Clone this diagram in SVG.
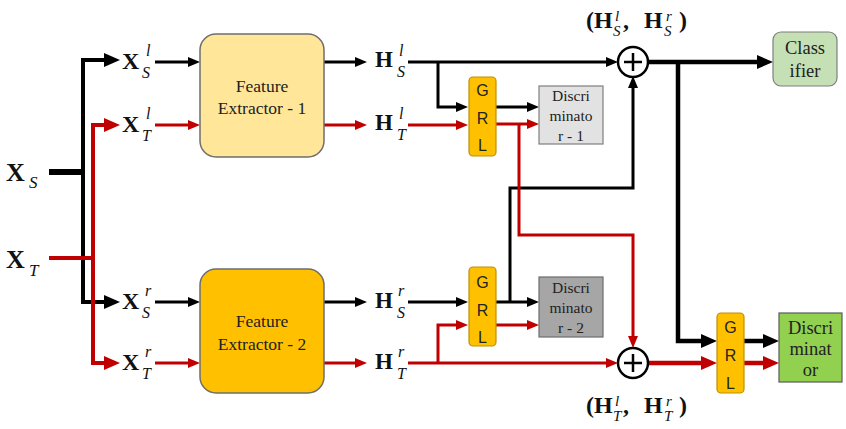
<svg xmlns="http://www.w3.org/2000/svg" width="846" height="429" viewBox="0 0 846 429">
<style>
.bk{fill:none;stroke:#000;stroke-linejoin:miter}
.rd{fill:none;stroke:#c00000;stroke-linejoin:miter}
.w3{stroke-width:3}
.w4{stroke-width:4}
.w45{stroke-width:4.5}
.sb{marker-end:url(#aSb)}
.sr{marker-end:url(#aSr)}
.bb{marker-end:url(#aBb)}
.br{marker-end:url(#aBr)}
.math{font-weight:bold;fill:#111}
.it{font-style:italic;fill:#111}
.lbl{fill:#222;text-anchor:middle}
.grl{font-size:16px;fill:#222;text-anchor:middle}
.grlbox{fill:#ffc000;stroke:#bf9000;stroke-width:1.2}
.sum{fill:#fff;stroke:#000;stroke-width:2.5}
.plus{stroke:#000;stroke-width:2.5}
</style>
<defs>
<marker id="aSb" viewBox="0 0 12 10" refX="1" refY="5" markerWidth="12" markerHeight="10" markerUnits="userSpaceOnUse" orient="auto"><path d="M0,0 L12,5 L0,10 z" fill="#000"/></marker>
<marker id="aSr" viewBox="0 0 12 10" refX="1" refY="5" markerWidth="12" markerHeight="10" markerUnits="userSpaceOnUse" orient="auto"><path d="M0,0 L12,5 L0,10 z" fill="#c00000"/></marker>
<marker id="aBb" viewBox="0 0 16 14" refX="1" refY="7" markerWidth="16" markerHeight="14" markerUnits="userSpaceOnUse" orient="auto"><path d="M0,0 L16,7 L0,14 z" fill="#000"/></marker>
<marker id="aBr" viewBox="0 0 16 14" refX="1" refY="7" markerWidth="16" markerHeight="14" markerUnits="userSpaceOnUse" orient="auto"><path d="M0,0 L16,7 L0,14 z" fill="#c00000"/></marker>
</defs>

<g id="connectors">
  <path class="bk" d="M49,172 H85" stroke-width="6"/>
  <path class="bk w4 bb" d="M83,174 V60 H105"/>
  <path class="bk w4 bb" d="M83,170 V302 H105"/>
  <path class="bk w3 sb" d="M155,62 H189"/>
  <path class="bk w3 sb" d="M155,302 H189"/>
  <path class="bk w3 sb" d="M324,62 H356"/>
  <path class="bk w3 sb" d="M324,302 H356"/>
  <path class="bk w3 sb" d="M408,62 H607"/>
  <path class="bk w3 sb" d="M438,62 V107 H457"/>
  <path class="bk w3 sb" d="M496,107 H528"/>
  <path class="bk w3 sb" d="M408,302 H457"/>
  <path class="bk w3 sb" d="M496,302 H528"/>
  <path class="bk w3 sb" d="M510,302 V188 H633 V87"/>
  <path class="bk w45 bb" d="M648,62 H758"/>
  <path class="bk w45 bb" d="M678,62 V341 H702"/>
  <path class="bk w45 bb" d="M744,341 H764"/>
  <path class="rd w4" d="M49,258 H95"/>
  <path class="rd w4 br" d="M93,260 V125 H105"/>
  <path class="rd w4 br" d="M93,256 V363 H105"/>
  <path class="rd w3 sr" d="M155,125 H189"/>
  <path class="rd w3 sr" d="M155,363 H189"/>
  <path class="rd w3 sr" d="M324,125 H356"/>
  <path class="rd w3 sr" d="M324,363 H356"/>
  <path class="rd w3 sr" d="M408,125 H457"/>
  <path class="rd w3 sr" d="M496,124 H528"/>
  <path class="rd w3 sr" d="M519,124 V235 H633 V337"/>
  <path class="rd w3 sr" d="M408,363 H607"/>
  <path class="rd w3 sr" d="M438,363 V325 H457"/>
  <path class="rd w3 sr" d="M496,325 H528"/>
  <path class="rd w45 br" d="M648,363 H702"/>
  <path class="rd w45 br" d="M744,363 H764"/>
</g>

<g font-family="'Liberation Serif', 'Times New Roman', serif">
<g id="input-xs">
  <text class="math" x="6" y="181" font-size="26">X</text>
  <text class="it" x="29" y="188" font-size="17">S</text>
</g>
<g id="input-xt">
  <text class="math" x="6" y="268" font-size="26">X</text>
  <text class="it" x="29" y="276" font-size="17">T</text>
</g>
<g id="x-s-l">
  <text class="math" x="122" y="69" font-size="24">X</text>
  <text class="it" x="146" y="56" font-size="16">l</text>
  <text class="it" x="142" y="78" font-size="16">S</text>
</g>
<g id="x-t-l">
  <text class="math" x="122" y="132" font-size="24">X</text>
  <text class="it" x="146" y="119" font-size="16">l</text>
  <text class="it" x="142" y="141" font-size="16">T</text>
</g>
<g id="x-s-r">
  <text class="math" x="122" y="309" font-size="24">X</text>
  <text class="it" x="145" y="296" font-size="16">r</text>
  <text class="it" x="142" y="318" font-size="16">S</text>
</g>
<g id="x-t-r">
  <text class="math" x="122" y="370" font-size="24">X</text>
  <text class="it" x="145" y="357" font-size="16">r</text>
  <text class="it" x="142" y="379" font-size="16">T</text>
</g>

<g id="feature-extractor-1">
  <rect x="200" y="34" width="124" height="123" rx="16" fill="#ffe699" stroke="#6d6d6d" stroke-width="1.5"/>
  <text class="lbl" x="262" y="92" font-size="17.5">Feature</text>
  <text class="lbl" x="262" y="114" font-size="17.5">Extractor - 1</text>
</g>
<g id="feature-extractor-2">
  <rect x="200" y="269" width="124" height="124" rx="16" fill="#ffc000" stroke="#6d6d6d" stroke-width="1.5"/>
  <text class="lbl" x="262" y="327" font-size="17.5">Feature</text>
  <text class="lbl" x="262" y="350" font-size="17.5">Extractor - 2</text>
</g>

<g id="h-s-l">
  <text class="math" x="375" y="67" font-size="23">H</text>
  <text class="it" x="399" y="56" font-size="16">l</text>
  <text class="it" x="397" y="77" font-size="16">S</text>
</g>
<g id="h-t-l">
  <text class="math" x="375" y="130" font-size="23">H</text>
  <text class="it" x="399" y="119" font-size="16">l</text>
  <text class="it" x="397" y="140" font-size="16">T</text>
</g>
<g id="h-s-r">
  <text class="math" x="375" y="308" font-size="23">H</text>
  <text class="it" x="398" y="296" font-size="16">r</text>
  <text class="it" x="397" y="318" font-size="16">S</text>
</g>
<g id="h-t-r">
  <text class="math" x="375" y="369" font-size="23">H</text>
  <text class="it" x="398" y="357" font-size="16">r</text>
  <text class="it" x="397" y="379" font-size="16">T</text>
</g>

<g id="discriminator-1">
  <rect x="539" y="86" width="64" height="58" fill="#e2e2e2" stroke="#7f7f7f" stroke-width="1.2"/>
  <text class="lbl" x="571" y="101" font-size="15.5">Discri</text>
  <text class="lbl" x="571" y="121" font-size="15.5">minato</text>
  <text class="lbl" x="571" y="141" font-size="15.5">r - 1</text>
</g>
<g id="discriminator-2">
  <rect x="539" y="277" width="64" height="60" fill="#a6a6a6" stroke="#6d6d6d" stroke-width="1.2"/>
  <text class="lbl" x="571" y="293" font-size="15.5">Discri</text>
  <text class="lbl" x="571" y="313" font-size="15.5">minato</text>
  <text class="lbl" x="571" y="333" font-size="15.5">r - 2</text>
</g>

<g id="sum-s">
  <circle class="sum" cx="633" cy="62" r="15"/>
  <path class="plus" d="M624,62 H642 M633,53 V71"/>
  <text class="math" x="586" y="28" font-size="24">(H</text>
  <text class="it" x="615" y="21" font-size="15">l</text>
  <text class="it" x="613" y="36" font-size="15">S</text>
  <text class="math" x="623" y="28" font-size="24">,</text>
  <text class="math" x="644" y="28" font-size="24">H</text>
  <text class="it" x="666" y="21" font-size="15">r</text>
  <text class="it" x="664" y="36" font-size="15">S</text>
  <text class="math" x="679" y="28" font-size="24">)</text>
</g>
<g id="sum-t">
  <circle class="sum" cx="633" cy="363" r="15"/>
  <path class="plus" d="M624,363 H642 M633,354 V372"/>
  <text class="math" x="586" y="413" font-size="24">(H</text>
  <text class="it" x="615" y="406" font-size="15">l</text>
  <text class="it" x="613" y="421" font-size="15">T</text>
  <text class="math" x="623" y="413" font-size="24">,</text>
  <text class="math" x="644" y="413" font-size="24">H</text>
  <text class="it" x="666" y="406" font-size="15">r</text>
  <text class="it" x="664" y="421" font-size="15">T</text>
  <text class="math" x="679" y="413" font-size="24">)</text>
</g>

<g id="classifier">
  <rect x="773" y="32" width="64" height="54" rx="8" fill="#c5e0b4" stroke="#7f7f7f" stroke-width="1.2"/>
  <text class="lbl" x="805" y="54" font-size="18.5">Class</text>
  <text class="lbl" x="805" y="77" font-size="18.5">ifier</text>
</g>
<g id="discriminator">
  <rect x="779" y="313" width="63" height="69" fill="#92d050" stroke="#5a5a5a" stroke-width="1.2"/>
  <text class="lbl" x="810.5" y="334" font-size="18.5">Discri</text>
  <text class="lbl" x="810.5" y="355" font-size="18.5">minat</text>
  <text class="lbl" x="810.5" y="376" font-size="18.5">or</text>
</g>
</g>

<g font-family="'Liberation Sans', Arial, sans-serif">
<g id="grl-1">
  <rect class="grlbox" x="469" y="77" width="27" height="79" rx="4"/>
  <text class="grl" x="482.5" y="96">G</text>
  <text class="grl" x="482.5" y="124">R</text>
  <text class="grl" x="482.5" y="151">L</text>
</g>
<g id="grl-2">
  <rect class="grlbox" x="469" y="267" width="27" height="79" rx="4"/>
  <text class="grl" x="482.5" y="288">G</text>
  <text class="grl" x="482.5" y="316">R</text>
  <text class="grl" x="482.5" y="343">L</text>
</g>
<g id="grl-3">
  <rect class="grlbox" x="717" y="313" width="27" height="80" rx="4"/>
  <text class="grl" x="730.5" y="333">G</text>
  <text class="grl" x="730.5" y="361">R</text>
  <text class="grl" x="730.5" y="389">L</text>
</g>
</g>
</svg>
